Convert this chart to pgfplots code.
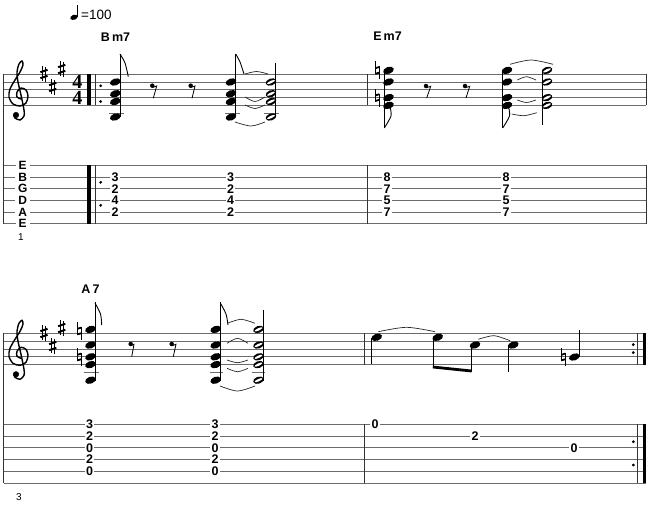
\documentclass[border=0pt]{standalone}
\usepackage{fontspec}
\setmainfont{Liberation Sans}
\newfontfamily\timesbold{Liberation Serif}[BoldFont={Liberation Serif Bold}]
\usepackage{pgfplots}
\usepackage{pgfplotstable}
\pgfplotsset{compat=1.18}

% noteheads, sizes in px of the reference
\pgfdeclareplotmark{nh}{%
  \pgfpathellipse{\pgfpointorigin}{\pgfqpoint{5.2pt}{1.9pt}}{\pgfqpoint{-1.3pt}{3.2pt}}%
  \pgfusepathqfill}
\pgfdeclareplotmark{nhs}{%
  \pgfpathellipse{\pgfpointorigin}{\pgfqpoint{3.6pt}{1.3pt}}{\pgfqpoint{-0.9pt}{2.3pt}}%
  \pgfusepathqfill}
\pgfdeclareplotmark{hh}{%
  \pgfpathellipse{\pgfpointorigin}{\pgfqpoint{5.2pt}{1.9pt}}{\pgfqpoint{-1.3pt}{3.2pt}}%
  \pgfusepathqfill
  \begin{pgfscope}%
  \pgfsetfillcolor{white}%
  \pgfpathellipse{\pgfpointorigin}{\pgfqpoint{3.9pt}{1.8pt}}{\pgfqpoint{-0.5pt}{1.1pt}}%
  \pgfusepathqfill
  \end{pgfscope}}
% accidentals
\pgfdeclareplotmark{sharp}{%
  \pgfsetlinewidth{0.8pt}%
  \pgfpathmoveto{\pgfqpoint{-1.8pt}{-6.8pt}}\pgfpathlineto{\pgfqpoint{-1.8pt}{8pt}}%
  \pgfpathmoveto{\pgfqpoint{1.8pt}{-8pt}}\pgfpathlineto{\pgfqpoint{1.8pt}{6.8pt}}%
  \pgfusepathqstroke
  \pgfsetlinewidth{2pt}%
  \pgfpathmoveto{\pgfqpoint{-3.6pt}{1.8pt}}\pgfpathlineto{\pgfqpoint{3.6pt}{4.2pt}}%
  \pgfpathmoveto{\pgfqpoint{-3.6pt}{-4.2pt}}\pgfpathlineto{\pgfqpoint{3.6pt}{-1.8pt}}%
  \pgfusepathqstroke}
\pgfdeclareplotmark{natural}{%
  \pgfsetlinewidth{0.8pt}%
  \pgfpathmoveto{\pgfqpoint{-2pt}{-4pt}}\pgfpathlineto{\pgfqpoint{-2pt}{9pt}}%
  \pgfpathmoveto{\pgfqpoint{2pt}{-9pt}}\pgfpathlineto{\pgfqpoint{2pt}{4pt}}%
  \pgfusepathqstroke
  \pgfsetlinewidth{1.8pt}%
  \pgfpathmoveto{\pgfqpoint{-2pt}{2.2pt}}\pgfpathlineto{\pgfqpoint{2pt}{3.4pt}}%
  \pgfpathmoveto{\pgfqpoint{-2pt}{-3.4pt}}\pgfpathlineto{\pgfqpoint{2pt}{-2.2pt}}%
  \pgfusepathqstroke}

\definecolor{staffgray}{gray}{0.42}

\pgfplotstableread{
x y
21 99
17 97
17 92
21 88
26 90
28 96
26 103
20 106
13 104
9 97
10 89
15 80
20 72
23 65
22 61
19 64
17 72
18 82
21 95
24 110
24 116
20 120
15 118
14 115
}\clefdata

\pgfplotstableread{
x y t
115 177 3
115 188.7 2
115 200.3 4
115 212 2
230.5 177 3
230.5 188.7 2
230.5 200.3 4
230.5 212 2
387 177 8
387 188.7 7
387 200.3 5
387 212 7
506 177 8
506 188.7 7
506 200.3 5
506 212 7
89.5 424.3 3
89.5 436 2
89.5 447.7 0
89.5 459.5 2
89.5 471.3 0
215 424.3 3
215 436 2
215 447.7 0
215 459.5 2
215 471.3 0
375 424.3 0
475 436 2
574 447.7 0
}\tabdata

\pgfplotstableread{
x y t
22.7 165 E
22.7 177 B
22.7 188.7 G
22.7 200.3 D
22.7 212 A
22.7 223.7 E
}\tabnames

\begin{document}
\begin{tikzpicture}
\path[use as bounding box] (0,0) rectangle (650pt,504pt);
\begin{axis}[
  at={(0,0)}, anchor=south west,
  scale only axis, width=650pt, height=504pt,
  xmin=0, xmax=650, ymin=0, ymax=504, y dir=reverse,
  hide axis, clip=false,
  staff/.style={draw=staffgray, line width=0.8pt, no marks},
  bar/.style={draw=black!80, line width=0.9pt, no marks},
  stem/.style={draw=black, line width=1pt, no marks},
  tie/.style={draw=black!85, line width=0.7pt, no marks, smooth},
  flag/.style={draw=black, line width=0.9pt, no marks, smooth},
  heads/.style={only marks, mark=nh, mark options={fill=black, draw=none}},
  hollow/.style={only marks, mark=hh, mark options={fill=black, draw=none}},
  accid/.style={only marks, mark options={draw=black, fill=black}},
  dots/.style={only marks, mark=*, mark size=1.2pt, mark options={fill=black, draw=none}},
  lbl/.style={only marks, mark=none, point meta=explicit symbolic, nodes near coords, nodes near coords align={center}},
]
% staff lines
\addplot[staff] coordinates {(3.5,74.3) (646,74.3)};
\addplot[staff] coordinates {(3.5,82) (646,82)};
\addplot[staff] coordinates {(3.5,89.8) (646,89.8)};
\addplot[staff] coordinates {(3.5,97.6) (646,97.6)};
\addplot[staff] coordinates {(3.5,105.4) (646,105.4)};
\addplot[staff] coordinates {(3.5,333.4) (646,333.4)};
\addplot[staff] coordinates {(3.5,341.2) (646,341.2)};
\addplot[staff] coordinates {(3.5,349) (646,349)};
\addplot[staff] coordinates {(3.5,356.8) (646,356.8)};
\addplot[staff] coordinates {(3.5,364.6) (646,364.6)};
% tab lines
\addplot[staff] coordinates {(3.5,165) (646,165)};
\addplot[staff] coordinates {(3.5,177) (646,177)};
\addplot[staff] coordinates {(3.5,188.7) (646,188.7)};
\addplot[staff] coordinates {(3.5,200.3) (646,200.3)};
\addplot[staff] coordinates {(3.5,212) (646,212)};
\addplot[staff] coordinates {(3.5,223.7) (646,223.7)};
\addplot[staff] coordinates {(3.5,424.3) (646,424.3)};
\addplot[staff] coordinates {(3.5,436) (646,436)};
\addplot[staff] coordinates {(3.5,447.7) (646,447.7)};
\addplot[staff] coordinates {(3.5,459.5) (646,459.5)};
\addplot[staff] coordinates {(3.5,471.3) (646,471.3)};
\addplot[staff] coordinates {(3.5,483.3) (646,483.3)};
% system lines and bars
\addplot[bar] coordinates {(3.5,74.3) (3.5,223.7)};
\addplot[bar] coordinates {(3.5,333.4) (3.5,483.3)};
\addplot[bar] coordinates {(95.7,74.3) (95.7,105.4)};
\addplot[bar] coordinates {(95.7,165) (95.7,223.7)};
\addplot[draw=black, line width=3.6pt, no marks] coordinates {(89,74.3) (89,105.4)};
\addplot[draw=black, line width=3.6pt, no marks] coordinates {(89,165) (89,223.7)};
\addplot[bar] coordinates {(367,74.3) (367,105.4)};
\addplot[bar] coordinates {(367,165) (367,223.7)};
\addplot[bar] coordinates {(646,74.3) (646,105.4)};
\addplot[bar] coordinates {(646,165) (646,223.7)};
\addplot[bar] coordinates {(364.5,333.4) (364.5,364.6)};
\addplot[bar] coordinates {(364.5,424.3) (364.5,483.3)};
\addplot[bar] coordinates {(637.7,333.4) (637.7,364.6)};
\addplot[bar] coordinates {(637.7,424.3) (637.7,483.3)};
\addplot[draw=black, line width=3.4pt, no marks] coordinates {(644.3,333.4) (644.3,364.6)};
\addplot[draw=black, line width=3.4pt, no marks] coordinates {(644.3,424.3) (644.3,483.3)};
% repeat dots
\addplot[dots] coordinates {(100.7,85.8) (100.7,101.5) (100.7,182.3) (100.7,205.3) (633.3,344.6) (633.3,352.6) (633.3,441.7) (633.3,465)};
% clefs
\addplot[draw=black, line width=1.4pt, no marks, smooth] table [x=x, y=y] {\clefdata};
\addplot[draw=black, line width=1.4pt, no marks, smooth] table [x=x, y expr=\thisrow{y}+259.3] {\clefdata};
\addplot[only marks, mark=*, mark size=2.8pt, mark options={fill=black, draw=none}] coordinates {(16,115) (16,374.3)};
% key signature
\addplot[accid, mark=sharp] coordinates {(44,74) (52.7,87) (61.7,69) (44,333) (52.7,346) (61.7,328)};
% naturals
\addplot[accid, mark=natural] coordinates {(377.3,70.4) (377.3,97.6) (79.3,331) (79.3,357) (563.3,357)};
% time signature
\addplot[only marks, mark=none, point meta=explicit symbolic, nodes near coords, nodes near coords align={center}, every node near coord/.append style={font=\timesbold\bfseries\fontsize{20}{20}\selectfont, inner sep=0pt}] table [meta=t] {
x y t
77.3 81.8 4
77.3 98 4
};
% ledger lines
\addplot[staff] coordinates {(109,113.2) (124,113.2)};
\addplot[staff] coordinates {(225,113.2) (240,113.2)};
\addplot[staff] coordinates {(264,113.2) (279,113.2)};
\addplot[staff] coordinates {(84,372.4) (99.3,372.4)};
\addplot[staff] coordinates {(210,372.4) (223,372.4)};
\addplot[staff] coordinates {(251.7,372.4) (265,372.4)};
% noteheads, first bar Bm7
\addplot[heads] coordinates {(115.3,82) (115.3,93.7) (115.3,101.5) (115.3,117)};
\addplot[heads] coordinates {(231,82) (231,93.7) (231,101.5) (231,117)};
\addplot[hollow] coordinates {(271,82) (271,93.7) (271,101.5) (271,117)};
% Em7
\addplot[heads] coordinates {(388.5,70.4) (388.5,82) (388.5,97.6) (388.5,105.4)};
\addplot[heads] coordinates {(507,70.4) (507,82) (507,97.6) (507,105.4)};
\addplot[hollow] coordinates {(547,70.4) (547,82) (547,97.6) (547,105.4)};
% A7
\addplot[heads] coordinates {(90.5,329.4) (90.5,345) (90.5,356.8) (90.5,364.6) (90.5,380.2)};
\addplot[heads] coordinates {(215.7,329.4) (215.7,345) (215.7,356.8) (215.7,364.6) (215.7,380.2)};
\addplot[hollow] coordinates {(258.5,329.4) (258.5,345) (258.5,356.8) (258.5,364.6) (258.5,380.2)};
% last bar
\addplot[heads] coordinates {(376.7,337.3) (437.7,337.3) (475,345) (513.3,345) (574.3,357)};
% stems
\addplot[stem] coordinates {(120,54) (120,117)};
\addplot[stem] coordinates {(235.7,54) (235.7,117)};
\addplot[stem] coordinates {(275.5,62.7) (275.5,117)};
\addplot[stem] coordinates {(384.3,70) (384.3,128)};
\addplot[stem] coordinates {(502.7,70) (502.7,128)};
\addplot[stem] coordinates {(542,70) (542,125)};
\addplot[stem] coordinates {(95,302.3) (95,380.5)};
\addplot[stem] coordinates {(220.3,302.3) (220.3,380.5)};
\addplot[stem] coordinates {(263.3,310) (263.3,380.5)};
\addplot[stem] coordinates {(371.7,337.5) (371.7,364.3)};
\addplot[stem] coordinates {(433.3,337.5) (433.3,367)};
\addplot[stem] coordinates {(471,345) (471,371.5)};
\addplot[stem] coordinates {(508.7,345) (508.7,372.3)};
\addplot[stem] coordinates {(579,330) (579,357)};
\addplot[draw=black, line width=2.8pt, no marks] coordinates {(432.8,367) (471.5,371)};
% flags
\addplot[flag] coordinates {(120,54) (125,63) (128.3,76.7)};
\addplot[flag] coordinates {(235.7,54) (240,62) (244,74)};
\addplot[flag] coordinates {(384.3,128) (391,116) (390,107)};
\addplot[flag] coordinates {(502.7,128) (509.5,116) (508.5,107)};
\addplot[flag] coordinates {(95,303) (100.5,314) (101.7,325)};
\addplot[flag] coordinates {(220.3,303) (226,314) (228,325)};
% eighth rests
\addplot[dots, mark size=2pt] coordinates {(152.3,85.7) (190.7,85.7) (426,86) (465,86) (130.7,344) (171.7,344)};
\addplot[stem, line width=0.8pt] coordinates {(152.3,87.5) (156.7,86) (153.3,98.3)};
\addplot[stem, line width=0.8pt] coordinates {(190.7,87.5) (195,86) (192,98.3)};
\addplot[stem, line width=0.8pt] coordinates {(426,87.8) (430.7,86.3) (426.7,98)};
\addplot[stem, line width=0.8pt] coordinates {(465,87.8) (469.7,86.3) (466,98)};
\addplot[stem, line width=0.8pt] coordinates {(130.7,345.8) (134,344.3) (131.7,356.7)};
\addplot[stem, line width=0.8pt] coordinates {(171.7,345.8) (176,344.3) (173.3,356.7)};
% ties
\addplot[tie] coordinates {(245,74) (256.5,71.5) (268,74)};
\addplot[tie] coordinates {(245,97) (255,101.5) (265,97)};
\addplot[tie] coordinates {(245,105) (255,108.5) (265,105)};
\addplot[tie] coordinates {(235,122) (251,126) (265,122)};
\addplot[tie] coordinates {(510,64.3) (531,60) (553,64.3)};
\addplot[tie] coordinates {(517.3,80) (526.5,76.7) (536,80)};
\addplot[tie] coordinates {(517.3,100) (526.5,102.5) (536,100)};
\addplot[tie] coordinates {(511.7,114) (524,115.7) (536.7,112.7)};
\addplot[tie] coordinates {(227.3,323.3) (241,319.3) (255,323.3)};
\addplot[tie] coordinates {(227,343.3) (237.5,338.3) (248,343.3)};
\addplot[tie] coordinates {(227,360) (237.5,362.7) (248,360)};
\addplot[tie] coordinates {(227,368.3) (237.5,371.7) (248,368.3)};
\addplot[tie] coordinates {(220,386) (237.5,391) (255,386)};
\addplot[tie] coordinates {(378.3,331.7) (406.5,327.3) (435,331.7)};
\addplot[tie] coordinates {(478.3,339.3) (494,335.7) (510,340.7)};
% tab numbers and string names
\addplot[lbl, every node near coord/.append style={font=\bfseries\fontsize{12.5}{12.5}\selectfont, fill=white, inner xsep=1.2pt, inner ysep=0pt}] table [x=x, y=y, meta=t] {\tabdata};
\addplot[lbl, every node near coord/.append style={font=\bfseries\fontsize{12}{12}\selectfont, fill=white, inner xsep=3pt, inner ysep=0pt}] table [x=x, y=y, meta=t] {\tabnames};
% tempo mark
\addplot[only marks, mark=nhs, mark options={fill=black, draw=none}] coordinates {(74,17.3)};
\addplot[stem] coordinates {(77,5) (77,17)};
\node[anchor=west, inner sep=0pt, font=\fontsize{13.5}{14}\selectfont] at (axis cs:81,15) {=100};
% chord names
\node[font=\bfseries\fontsize{12.5}{13}\selectfont, inner sep=0pt] at (axis cs:115.5,37) {B\,m7};
\node[font=\bfseries\fontsize{12.5}{13}\selectfont, inner sep=0pt] at (axis cs:387.5,36) {E\,m7};
\node[font=\bfseries\fontsize{12.5}{13}\selectfont, inner sep=0pt] at (axis cs:90.5,289) {A\,7};
% bar numbers
\node[font=\fontsize{10}{10}\selectfont, inner sep=0pt] at (axis cs:21,237) {1};
\node[font=\fontsize{10}{10}\selectfont, inner sep=0pt] at (axis cs:19,497) {3};
\end{axis}
\end{tikzpicture}
\end{document}
